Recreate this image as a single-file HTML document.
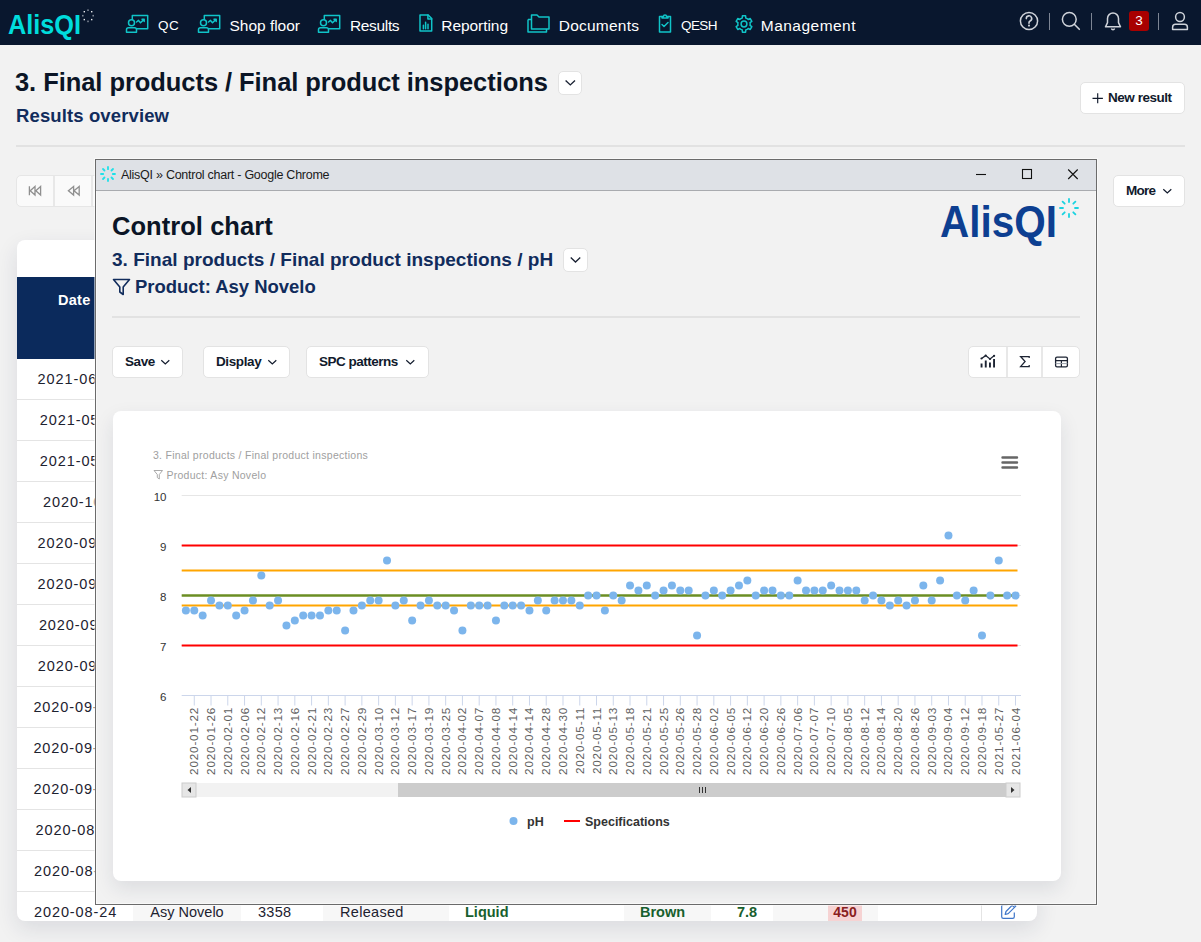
<!DOCTYPE html>
<html><head><meta charset="utf-8">
<style>
*{box-sizing:border-box;margin:0;padding:0}
html,body{width:1201px;height:942px;overflow:hidden;background:#f2f2f2;font-family:"Liberation Sans",sans-serif;position:relative}
.a{position:absolute;white-space:nowrap}
.nav{position:absolute;left:0;top:0;width:1201px;height:45px;background:#09172e}
.nt{position:absolute;color:#fff;font-size:15.5px;line-height:18px;top:17px}
.btn{position:absolute;background:#fff;border:1px solid #e3e3e3;border-radius:5px}
.bt{position:absolute;font-weight:bold;font-size:13.5px;color:#111a2c;line-height:16px}
.card{position:absolute;background:#fff;border-radius:8px;box-shadow:0 8px 22px rgba(25,35,70,.11)}
.row{position:absolute;left:0;width:1020px;height:41px;border-bottom:1px solid #e4e4e4}
.cell{position:absolute;top:0;height:40px;font-size:14.5px;color:#1d2230;line-height:40px;text-align:center}
</style></head><body>
<!-- nav -->
<div class="nav">
  <div class="a" style="left:7.5px;top:7.5px;font-size:28px;font-weight:bold;color:#00dcdc;line-height:34px;transform:scaleX(0.903);transform-origin:0 0">AlisQI</div>
  <svg class="a" style="left:80px;top:8px" width="16" height="16" viewBox="0 0 16 16"><g fill="#7d8593"><rect x="7.2" y="1.4" width="1.6" height="1.6"/><rect x="7.2" y="12.6" width="1.6" height="1.6"/><rect x="2" y="6.9" width="1.6" height="1.6"/><rect x="12.4" y="6.9" width="1.6" height="1.6"/></g><g fill="#e8eaee"><rect x="3.6" y="3" width="1.4" height="1.4"/><rect x="11" y="3" width="1.4" height="1.4"/><rect x="3.6" y="10.9" width="1.4" height="1.4"/><rect x="11" y="10.9" width="1.4" height="1.4"/></g></svg>
  <svg class="a" style="left:121.7px;top:10px" width="28" height="26" viewBox="0 0 28 26"><g fill="none" stroke="#10c4c8" stroke-width="1.5" stroke-linejoin="round" stroke-linecap="round"><path d="M10.3 9.3V5.5h15.4v13.3h-11.2"/><circle cx="9.5" cy="12.7" r="3"/><path d="M4.5 22.2v-2.5q0-2 2-2h6q2 0 2 2v2.5z"/><path d="M14.5 12l2-1.6 2 2.4 3.5-3.4M20 9.2h2.2v2.2"/></g></svg><div class="nt" style="left:158px;font-size:13.5px;letter-spacing:0.5px">QC</div>
<svg class="a" style="left:193.7px;top:10px" width="28" height="26" viewBox="0 0 28 26"><g fill="none" stroke="#10c4c8" stroke-width="1.5" stroke-linejoin="round" stroke-linecap="round"><path d="M10.3 9.3V5.5h15.4v13.3h-11.2"/><circle cx="9.5" cy="12.7" r="3"/><path d="M4.5 22.2v-2.5q0-2 2-2h6q2 0 2 2v2.5z"/><path d="M14.5 12l2-1.6 2 2.4 3.5-3.4M20 9.2h2.2v2.2"/></g></svg><div class="nt" style="left:229.5px;font-size:15.5px;letter-spacing:-0.019px">Shop floor</div>
<svg class="a" style="left:313.7px;top:10px" width="28" height="26" viewBox="0 0 28 26"><g fill="none" stroke="#10c4c8" stroke-width="1.5" stroke-linejoin="round" stroke-linecap="round"><path d="M10.3 9.3V5.5h15.4v13.3h-11.2"/><circle cx="9.5" cy="12.7" r="3"/><path d="M4.5 22.2v-2.5q0-2 2-2h6q2 0 2 2v2.5z"/><path d="M14.5 12l2-1.6 2 2.4 3.5-3.4M20 9.2h2.2v2.2"/></g></svg><div class="nt" style="left:350px;font-size:15.5px;letter-spacing:-0.348px">Results</div>
<svg class="a" style="left:414px;top:10px" width="24" height="26" viewBox="0 0 24 26"><g fill="none" stroke="#10c4c8" stroke-width="1.5" stroke-linejoin="round" stroke-linecap="round"><path d="M6 4.9h8.2l3.5 3.6v12.5H6z"/><path d="M13.9 5v4.1h3.8"/><path d="M9.4 15.3v3.4M11.6 12.3v6.4M14 14.3v4.4"/></g></svg><div class="nt" style="left:441.25px;font-size:15.5px;letter-spacing:-0.052px">Reporting</div>
<svg class="a" style="left:523.5px;top:10px" width="28" height="26" viewBox="0 0 28 26"><g fill="none" stroke="#10c4c8" stroke-width="1.5" stroke-linejoin="round"><path d="M4 9.5h3.5 M4 9.5v12.5h18.5v-3"/><path d="M7.5 5h5.5l2 2h10v12h-17.5z"/></g></svg><div class="nt" style="left:558.75px;font-size:15.5px;letter-spacing:0.233px">Documents</div>
<svg class="a" style="left:655px;top:10px" width="20" height="26" viewBox="0 0 20 26"><g fill="none" stroke="#10c4c8" stroke-width="1.5" stroke-linejoin="round" stroke-linecap="round"><path d="M7 6.5H4.5v15.5h11V6.5H13"/><path d="M7 8h6V6.5h-1.5a1.5 1.5 0 0 0-3 0H7z"/><path d="M7 14.5l2 2 4-4"/></g></svg><div class="nt" style="left:681.1px;font-size:13.5px;letter-spacing:-0.637px">QESH</div>
<svg class="a" style="left:730px;top:10px" width="28" height="26" viewBox="0 0 28 26"><g fill="none" stroke="#10c4c8" stroke-width="1.5" stroke-linejoin="round"><path d="M10.90 8.63 L12.19 8.07 L12.42 5.85 L15.58 5.85 L15.81 8.07 L17.10 8.63 L18.23 9.47 L20.26 8.55 L21.85 11.30 L20.04 12.61 L20.20 14.00 L20.04 15.39 L21.85 16.70 L20.26 19.45 L18.23 18.53 L17.10 19.37 L15.81 19.93 L15.58 22.15 L12.42 22.15 L12.19 19.93 L10.90 19.37 L9.77 18.53 L7.74 19.45 L6.15 16.70 L7.96 15.39 L7.80 14.00 L7.96 12.61 L6.15 11.30 L7.74 8.55 L9.77 9.47Z"/><circle cx="14" cy="14" r="2.9"/></g></svg><div class="nt" style="left:760.8px;font-size:15.5px;letter-spacing:0.47px">Management</div>

  <svg class="a" style="left:1018px;top:10px" width="22" height="22" viewBox="0 0 22 22"><circle cx="11" cy="11" r="8.6" fill="none" stroke="#cfd3da" stroke-width="1.5"/><path d="M8.3 8.6a2.7 2.7 0 1 1 3.8 2.4c-.8.4-1.1.9-1.1 1.7v.6" fill="none" stroke="#cfd3da" stroke-width="1.6" stroke-linecap="round"/><circle cx="11" cy="15.6" r="1.05" fill="#cfd3da"/></svg>
<div class="a" style="left:1049px;top:13px;width:1px;height:17px;background:#7d8594"></div>
<svg class="a" style="left:1060px;top:10px" width="22" height="22" viewBox="0 0 22 22"><circle cx="9.3" cy="9.3" r="6.9" fill="none" stroke="#cfd3da" stroke-width="1.5"/><path d="M14.3 14.3l5 5" stroke="#cfd3da" stroke-width="1.6" stroke-linecap="round"/></svg>
<div class="a" style="left:1091px;top:13px;width:1px;height:17px;background:#7d8594"></div>
<svg class="a" style="left:1103px;top:10px" width="20" height="22" viewBox="0 0 20 22"><path d="M10 3a5.5 5.5 0 0 0-5.5 5.5v4.2L2.5 16.8h15l-2-4.1V8.5A5.5 5.5 0 0 0 10 3z" fill="none" stroke="#cfd3da" stroke-width="1.5" stroke-linejoin="round"/><path d="M8.4 18.6a1.7 1.7 0 0 0 3.2 0" fill="none" stroke="#cfd3da" stroke-width="1.4"/></svg>
<div class="a" style="left:1129px;top:11px;width:20px;height:20px;background:#a80000;border-radius:3px;color:#fff;font-size:13.5px;text-align:center;line-height:19px">3</div>
<div class="a" style="left:1158px;top:13px;width:1px;height:17px;background:#7d8594"></div>
<svg class="a" style="left:1170px;top:10px" width="20" height="22" viewBox="0 0 20 22"><circle cx="10" cy="7" r="4.4" fill="none" stroke="#cfd3da" stroke-width="1.5"/><path d="M2.6 19.5v-2.3q0-3 3-3h8.8q3 0 3 3v2.3z" fill="none" stroke="#cfd3da" stroke-width="1.5" stroke-linejoin="round"/></svg>

</div>
<!-- PAGE HEADER -->
<div class="a" style="left:15px;top:67px;font-size:25.5px;font-weight:bold;color:#0b1526;letter-spacing:-0.06px;line-height:30px">3. Final products / Final product inspections</div>
<div class="btn" style="left:558px;top:71px;width:24px;height:24px"><svg class="a" style="left:6px;top:8px" width="12" height="8" viewBox="0 0 12 8"><path d="M0.6 0.6l4.7 4.3 4.7-4.3" fill="none" stroke="#1a2233" stroke-width="1.4"/></svg></div>
<div class="a" style="left:16px;top:105px;font-size:18.5px;font-weight:bold;color:#112c5c;letter-spacing:0.12px;line-height:22px">Results overview</div>
<div class="btn" style="left:1080px;top:82px;width:105px;height:32px">
  <svg class="a" style="left:11px;top:9px" width="12" height="13" viewBox="0 0 12 13"><path d="M5.7 1.3v10M0.5 6.3h10.4" stroke="#111a2c" stroke-width="1.15"/></svg>
  <div class="bt" style="left:27px;top:7px;letter-spacing:-0.47px">New result</div>
</div>
<div class="a" style="left:16px;top:145px;width:1169px;height:2px;background:#e2e2e2"></div>
<!-- pagination -->
<div class="btn" style="left:16px;top:175px;width:120px;height:32px;background:#fafafa;border-color:#e6e6e6">
  <div class="a" style="left:36px;top:0;width:2px;height:30px;background:#e8e8e8"></div>
  <div class="a" style="left:74px;top:0;width:2px;height:30px;background:#e8e8e8"></div>
  <svg class="a" style="left:11px;top:9px" width="16" height="14" viewBox="0 0 16 14"><path d="M1.4 1.2v9M7 1.4L2.2 5.7 7 10z M12.6 1.4L7.8 5.7l4.8 4.3z" fill="none" stroke="#8f8f8f" stroke-width="1.3" stroke-linejoin="miter"/></svg>
  <svg class="a" style="left:50px;top:9px" width="16" height="14" viewBox="0 0 16 14"><path d="M6.6 1.4L1.4 5.7l5.2 4.3z M12.2 1.4L7 5.7l5.2 4.3z" fill="none" stroke="#8f8f8f" stroke-width="1.3" stroke-linejoin="miter"/></svg>
</div>
<div class="btn" style="left:1113px;top:175px;width:72px;height:32px">
  <div class="bt" style="left:12px;top:7px;letter-spacing:-0.72px">More</div>
  <svg class="a" style="left:48px;top:11px" width="11" height="8" viewBox="0 0 11 8"><path d="M1.3 2.3l4 3.6 4-3.6" fill="none" stroke="#111a2c" stroke-width="1.2"/></svg>
</div>
<!-- TABLE CARD -->
<div class="card" style="left:17px;top:240px;width:1020px;height:681px;overflow:hidden;border-radius:8px">
  <div class="a" style="left:0;top:37px;width:1020px;height:82px;background:#0b2a5c"></div>
  <div class="a" style="left:41px;top:51px;font-size:14.5px;font-weight:bold;color:#fff;line-height:18px;letter-spacing:0.27px">Date</div>
  <div class="row" style="top:119px"><div class="a" style="left:116px;top:0;width:108px;height:40px;background:#f7f7f7"></div><div class="a" style="left:306px;top:0;width:126px;height:40px;background:#f7f7f7"></div><div class="a" style="left:607px;top:0;width:87px;height:40px;background:#f7f7f7"></div><div class="a" style="left:756px;top:0;width:105px;height:40px;background:#f7f7f7"></div><div class="a" style="left:964px;top:0;width:1px;height:40px;background:#e4e4e4"></div><div class="cell" style="left:0;width:116px;letter-spacing:0.9px;text-align:left;padding-left:20.6px">2021-06-04</div></div>
<div class="row" style="top:160px"><div class="a" style="left:116px;top:0;width:108px;height:40px;background:#f7f7f7"></div><div class="a" style="left:306px;top:0;width:126px;height:40px;background:#f7f7f7"></div><div class="a" style="left:607px;top:0;width:87px;height:40px;background:#f7f7f7"></div><div class="a" style="left:756px;top:0;width:105px;height:40px;background:#f7f7f7"></div><div class="a" style="left:964px;top:0;width:1px;height:40px;background:#e4e4e4"></div><div class="cell" style="left:0;width:116px;letter-spacing:0.9px;text-align:left;padding-left:22.8px">2021-05-27</div></div>
<div class="row" style="top:201px"><div class="a" style="left:116px;top:0;width:108px;height:40px;background:#f7f7f7"></div><div class="a" style="left:306px;top:0;width:126px;height:40px;background:#f7f7f7"></div><div class="a" style="left:607px;top:0;width:87px;height:40px;background:#f7f7f7"></div><div class="a" style="left:756px;top:0;width:105px;height:40px;background:#f7f7f7"></div><div class="a" style="left:964px;top:0;width:1px;height:40px;background:#e4e4e4"></div><div class="cell" style="left:0;width:116px;letter-spacing:0.9px;text-align:left;padding-left:22.8px">2021-05-27</div></div>
<div class="row" style="top:242px"><div class="a" style="left:116px;top:0;width:108px;height:40px;background:#f7f7f7"></div><div class="a" style="left:306px;top:0;width:126px;height:40px;background:#f7f7f7"></div><div class="a" style="left:607px;top:0;width:87px;height:40px;background:#f7f7f7"></div><div class="a" style="left:756px;top:0;width:105px;height:40px;background:#f7f7f7"></div><div class="a" style="left:964px;top:0;width:1px;height:40px;background:#e4e4e4"></div><div class="cell" style="left:0;width:116px;letter-spacing:0.9px;text-align:left;padding-left:26.0px">2020-10-01</div></div>
<div class="row" style="top:283px"><div class="a" style="left:116px;top:0;width:108px;height:40px;background:#f7f7f7"></div><div class="a" style="left:306px;top:0;width:126px;height:40px;background:#f7f7f7"></div><div class="a" style="left:607px;top:0;width:87px;height:40px;background:#f7f7f7"></div><div class="a" style="left:756px;top:0;width:105px;height:40px;background:#f7f7f7"></div><div class="a" style="left:964px;top:0;width:1px;height:40px;background:#e4e4e4"></div><div class="cell" style="left:0;width:116px;letter-spacing:0.9px;text-align:left;padding-left:20.6px">2020-09-18</div></div>
<div class="row" style="top:324px"><div class="a" style="left:116px;top:0;width:108px;height:40px;background:#f7f7f7"></div><div class="a" style="left:306px;top:0;width:126px;height:40px;background:#f7f7f7"></div><div class="a" style="left:607px;top:0;width:87px;height:40px;background:#f7f7f7"></div><div class="a" style="left:756px;top:0;width:105px;height:40px;background:#f7f7f7"></div><div class="a" style="left:964px;top:0;width:1px;height:40px;background:#e4e4e4"></div><div class="cell" style="left:0;width:116px;letter-spacing:0.9px;text-align:left;padding-left:20.6px">2020-09-18</div></div>
<div class="row" style="top:365px"><div class="a" style="left:116px;top:0;width:108px;height:40px;background:#f7f7f7"></div><div class="a" style="left:306px;top:0;width:126px;height:40px;background:#f7f7f7"></div><div class="a" style="left:607px;top:0;width:87px;height:40px;background:#f7f7f7"></div><div class="a" style="left:756px;top:0;width:105px;height:40px;background:#f7f7f7"></div><div class="a" style="left:964px;top:0;width:1px;height:40px;background:#e4e4e4"></div><div class="cell" style="left:0;width:116px;letter-spacing:0.9px;text-align:left;padding-left:21.9px">2020-09-12</div></div>
<div class="row" style="top:406px"><div class="a" style="left:116px;top:0;width:108px;height:40px;background:#f7f7f7"></div><div class="a" style="left:306px;top:0;width:126px;height:40px;background:#f7f7f7"></div><div class="a" style="left:607px;top:0;width:87px;height:40px;background:#f7f7f7"></div><div class="a" style="left:756px;top:0;width:105px;height:40px;background:#f7f7f7"></div><div class="a" style="left:964px;top:0;width:1px;height:40px;background:#e4e4e4"></div><div class="cell" style="left:0;width:116px;letter-spacing:0.9px;text-align:left;padding-left:20.8px">2020-09-09</div></div>
<div class="row" style="top:447px"><div class="a" style="left:116px;top:0;width:108px;height:40px;background:#f7f7f7"></div><div class="a" style="left:306px;top:0;width:126px;height:40px;background:#f7f7f7"></div><div class="a" style="left:607px;top:0;width:87px;height:40px;background:#f7f7f7"></div><div class="a" style="left:756px;top:0;width:105px;height:40px;background:#f7f7f7"></div><div class="a" style="left:964px;top:0;width:1px;height:40px;background:#e4e4e4"></div><div class="cell" style="left:0;width:116px;letter-spacing:0.9px;text-align:left;padding-left:16.4px">2020-09-04</div></div>
<div class="row" style="top:488px"><div class="a" style="left:116px;top:0;width:108px;height:40px;background:#f7f7f7"></div><div class="a" style="left:306px;top:0;width:126px;height:40px;background:#f7f7f7"></div><div class="a" style="left:607px;top:0;width:87px;height:40px;background:#f7f7f7"></div><div class="a" style="left:756px;top:0;width:105px;height:40px;background:#f7f7f7"></div><div class="a" style="left:964px;top:0;width:1px;height:40px;background:#e4e4e4"></div><div class="cell" style="left:0;width:116px;letter-spacing:0.9px;text-align:left;padding-left:16.4px">2020-09-04</div></div>
<div class="row" style="top:529px"><div class="a" style="left:116px;top:0;width:108px;height:40px;background:#f7f7f7"></div><div class="a" style="left:306px;top:0;width:126px;height:40px;background:#f7f7f7"></div><div class="a" style="left:607px;top:0;width:87px;height:40px;background:#f7f7f7"></div><div class="a" style="left:756px;top:0;width:105px;height:40px;background:#f7f7f7"></div><div class="a" style="left:964px;top:0;width:1px;height:40px;background:#e4e4e4"></div><div class="cell" style="left:0;width:116px;letter-spacing:0.9px;text-align:left;padding-left:16.4px">2020-09-03</div></div>
<div class="row" style="top:570px"><div class="a" style="left:116px;top:0;width:108px;height:40px;background:#f7f7f7"></div><div class="a" style="left:306px;top:0;width:126px;height:40px;background:#f7f7f7"></div><div class="a" style="left:607px;top:0;width:87px;height:40px;background:#f7f7f7"></div><div class="a" style="left:756px;top:0;width:105px;height:40px;background:#f7f7f7"></div><div class="a" style="left:964px;top:0;width:1px;height:40px;background:#e4e4e4"></div><div class="cell" style="left:0;width:116px;letter-spacing:0.9px;text-align:left;padding-left:18.6px">2020-08-26</div></div>
<div class="row" style="top:611px"><div class="a" style="left:116px;top:0;width:108px;height:40px;background:#f7f7f7"></div><div class="a" style="left:306px;top:0;width:126px;height:40px;background:#f7f7f7"></div><div class="a" style="left:607px;top:0;width:87px;height:40px;background:#f7f7f7"></div><div class="a" style="left:756px;top:0;width:105px;height:40px;background:#f7f7f7"></div><div class="a" style="left:964px;top:0;width:1px;height:40px;background:#e4e4e4"></div><div class="cell" style="left:0;width:116px;letter-spacing:0.9px;text-align:left;padding-left:17.0px">2020-08-26</div></div>
<div class="row" style="top:652px"><div class="a" style="left:116px;top:0;width:108px;height:40px;background:#f7f7f7"></div><div class="a" style="left:306px;top:0;width:126px;height:40px;background:#f7f7f7"></div><div class="a" style="left:607px;top:0;width:87px;height:40px;background:#f7f7f7"></div><div class="a" style="left:756px;top:0;width:105px;height:40px;background:#f7f7f7"></div><div class="a" style="left:964px;top:0;width:1px;height:40px;background:#e4e4e4"></div><div class="cell" style="left:0;width:116px;letter-spacing:0.9px;text-align:left;padding-left:17.0px">2020-08-24</div><div class="cell" style="left:116px;width:108px">Asy Novelo</div><div class="cell" style="left:224px;width:82px;text-align:left;padding-left:17px;letter-spacing:0.3px">3358</div><div class="cell" style="left:306px;width:126px;text-align:left;padding-left:17px;letter-spacing:0.3px">Released</div><div class="cell" style="left:432px;width:175px;text-align:left;padding-left:16px;font-weight:bold;color:#17602e">Liquid</div><div class="cell" style="left:607px;width:87px;font-weight:bold;color:#17602e;text-align:left;padding-left:16px">Brown</div><div class="cell" style="left:694px;width:62px;font-weight:bold;color:#17602e;font-size:14.5px;text-align:left;padding-left:26px">7.8</div><div class="a" style="left:811px;top:11px;width:34px;height:20px;background:#f6d3d3"></div><div class="cell" style="left:811px;width:34px;font-weight:bold;color:#8a1f1f;font-size:14px">450</div><svg class="a" style="left:983px;top:11px" width="18" height="18" viewBox="0 0 18 18"><path d="M7.6 1.6H3.3a1.6 1.6 0 0 0-1.6 1.6v10.6a1.6 1.6 0 0 0 1.6 1.6h9.4a1.6 1.6 0 0 0 1.6-1.6V9.4" fill="none" stroke="#3f76c9" stroke-width="1.2"/><path d="M13.6 0.9l2.2 2.2-7.6 7.6-3 .8.8-3z M12.2 2.3l2.2 2.2" fill="none" stroke="#3f76c9" stroke-width="1.2" stroke-linejoin="round"/></svg></div>

</div>
<!-- popup -->
<div class="a" style="left:95px;top:159px;width:1002px;height:746px;border:1px solid #6b6b6b;background:#f2f2f2;box-shadow:0 0 0 1px rgba(255,255,255,.55) inset,0 0 0 1px rgba(255,255,255,.55)">
  <div class="a" style="left:0;top:0;width:1000px;height:31px;background:#dee1e6;border-bottom:1px solid #a9abaf"></div>
  <svg class="a" style="left:3px;top:5px" width="18" height="18" viewBox="0 0 18 18"><g stroke="#1ee0e8" stroke-width="1.8" stroke-linecap="round"><path d="M9 2v2.2M9 13.8V16M2 9h2.2M13.8 9H16M4 4l1.5 1.5M12.5 12.5L14 14M4 14l1.5-1.5M12.5 5.5L14 4"/></g></svg>
  <div class="a" style="left:25px;top:7px;font-size:12.5px;color:#1a1a1a;line-height:16px;letter-spacing:-0.26px">AlisQI » Control chart - Google Chrome</div>
  <svg class="a" style="left:878px;top:7px" width="120" height="18" viewBox="0 0 120 18"><path d="M2 7.5h10" stroke="#111" stroke-width="1.1"/><rect x="48.5" y="2.5" width="9" height="9" fill="none" stroke="#111" stroke-width="1.1"/><path d="M94.2 2.5l9.5 9.5M103.7 2.5l-9.5 9.5" stroke="#111" stroke-width="1.1"/></svg>
  <!-- content -->
  <div class="a" style="left:16px;top:51px;font-size:25.5px;font-weight:bold;color:#0b1526;line-height:30px;letter-spacing:0.05px">Control chart</div>
  <div class="a" style="left:16px;top:89px;font-size:19px;font-weight:bold;color:#112c5c;line-height:22px;letter-spacing:0.02px">3. Final products / Final product inspections / pH</div>
  <div class="btn" style="left:467px;top:88px;width:25px;height:24px"><svg class="a" style="left:6px;top:8px" width="12" height="8" viewBox="0 0 12 8"><path d="M0.75 0.6l4.75 4.4 4.75-4.4" fill="none" stroke="#1a2233" stroke-width="1.3"/></svg></div>
  <svg class="a" style="left:16px;top:117px" width="20" height="20" viewBox="0 0 20 20"><path d="M1.5 2.5h16l-6.3 7.5v7.5l-3.4-2.5v-5z" fill="none" stroke="#112c5c" stroke-width="1.6" stroke-linejoin="round"/></svg>
  <div class="a" style="left:39px;top:116px;font-size:18.5px;font-weight:bold;color:#112c5c;line-height:22px;letter-spacing:-0.03px">Product: Asy Novelo</div>
  <div class="a" style="left:16px;top:156px;width:968px;height:2px;background:#e2e2e2"></div>
  <!-- logo -->
  <div class="a" style="left:844px;top:36.5px;font-size:44px;font-weight:bold;color:#0d3f91;line-height:50px;transform:scaleX(0.92);transform-origin:0 0">AlisQI</div>
  <svg class="a" style="left:962px;top:37px" width="22" height="22" viewBox="0 0 22 22"><g stroke="#19d3e0" stroke-width="1.8" stroke-linecap="round"><path d="M11 2v3M11 17v3M2 11h3M17 11h3M4.6 4.6l2.1 2.1M15.3 15.3l2.1 2.1M4.6 17.4l2.1-2.1M15.3 6.7l2.1-2.1"/></g></svg>
  <!-- buttons -->
  <div class="btn" style="left:16px;top:186px;width:71px;height:32px"><div class="bt" style="left:12px;top:7px;letter-spacing:-0.41px">Save</div><svg class="a" style="left:47px;top:11px" width="11" height="8" viewBox="0 0 11 8"><path d="M1.3 2.3l4 3.6 4-3.6" fill="none" stroke="#111a2c" stroke-width="1.2"/></svg></div>
  <div class="btn" style="left:107px;top:186px;width:87px;height:32px"><div class="bt" style="left:12px;top:7px;letter-spacing:-0.39px">Display</div><svg class="a" style="left:63px;top:11px" width="11" height="8" viewBox="0 0 11 8"><path d="M1.3 2.3l4 3.6 4-3.6" fill="none" stroke="#111a2c" stroke-width="1.2"/></svg></div>
  <div class="btn" style="left:210px;top:186px;width:123px;height:32px"><div class="bt" style="left:12px;top:7px;letter-spacing:-0.5px">SPC patterns</div><svg class="a" style="left:98px;top:11px" width="11" height="8" viewBox="0 0 11 8"><path d="M1.3 2.3l4 3.6 4-3.6" fill="none" stroke="#111a2c" stroke-width="1.2"/></svg></div>
  <div class="btn" style="left:872px;top:186px;width:112px;height:32px">
    <div class="a" style="left:37px;top:0;width:2px;height:30px;background:#e8e8e8"></div>
    <div class="a" style="left:72px;top:0;width:2px;height:30px;background:#e8e8e8"></div>
    <svg class="a" style="left:10px;top:7px" width="18" height="18" viewBox="0 0 18 18"><g fill="#1d2433"><rect x="1.6" y="9.5" width="1.9" height="4"/><rect x="5.8" y="6.5" width="1.9" height="7"/><rect x="10" y="8.5" width="1.9" height="5"/><rect x="14.1" y="5" width="1.9" height="8.5"/><circle cx="2.5" cy="4.5" r="1.1"/><circle cx="6.7" cy="1.6" r="1.1"/><circle cx="11" cy="5" r="1.1"/><circle cx="15.1" cy="1.8" r="1.1"/></g><path d="M2.5 4.5L6.7 1.6 11 5 15.1 1.8" fill="none" stroke="#1d2433" stroke-width="1.3"/></svg>
    <svg class="a" style="left:49px;top:7px" width="18" height="18" viewBox="0 0 18 18"><path d="M11.2 4V2.5H2.6L7.1 7.5 2.6 12.5h8.6V11" fill="none" stroke="#1d2433" stroke-width="1.25" stroke-linejoin="miter"/></svg>
    <svg class="a" style="left:84px;top:7px" width="18" height="18" viewBox="0 0 18 18"><rect x="2.6" y="3.1" width="11.8" height="9.8" rx="1.4" fill="none" stroke="#1d2433" stroke-width="1.3"/><path d="M2.6 6.6h11.8M8.4 6.6v6.3" stroke="#1d2433" stroke-width="1.2"/><path d="M2.6 9.6h11.8" stroke="#9aa0aa" stroke-width="1"/></svg>
  </div>
  <!-- chart card -->
  <div class="card" style="left:17px;top:251px;width:948px;height:470px;box-shadow:0 8px 20px rgba(25,35,70,.10)">
<svg class="a" style="left:0;top:0" width="948" height="470" font-family="Liberation Sans, sans-serif"><g transform="translate(-113,-411)">
<text x="153" y="459" font-size="10.5" fill="#a0a0a0" letter-spacing="0.28">3. Final products / Final product inspections</text>
<path d="M154 470.5h8.5l-3.2 4v4.5l-2-1.5v-3z" fill="none" stroke="#a0a0a0" stroke-width="0.9" stroke-linejoin="round"/>
<text x="166.4" y="479" font-size="10.5" fill="#a0a0a0" letter-spacing="0.28">Product: Asy Novelo</text>
<g stroke="#666" stroke-width="2.4" stroke-linecap="round"><path d="M1002.5 457.5h14.5M1002.5 462.5h14.5M1002.5 467.5h14.5"/></g>
<path d="M181.7 495.5H1021" stroke="#e6e6e6" stroke-width="1"/>
<path d="M181.7 545.5H1021" stroke="#e6e6e6" stroke-width="1"/>
<path d="M181.7 595.5H1021" stroke="#e6e6e6" stroke-width="1"/>
<path d="M181.7 645.5H1021" stroke="#e6e6e6" stroke-width="1"/>
<text x="166.5" y="500.5" font-size="11.5" fill="#333" text-anchor="end">10</text>
<text x="166.5" y="550.5" font-size="11.5" fill="#333" text-anchor="end">9</text>
<text x="166.5" y="600.5" font-size="11.5" fill="#333" text-anchor="end">8</text>
<text x="166.5" y="650.5" font-size="11.5" fill="#333" text-anchor="end">7</text>
<text x="166.5" y="700.5" font-size="11.5" fill="#333" text-anchor="end">6</text>
<path d="M181.7 545.5H1017.5M181.7 645.5H1017.5" stroke="#ff0000" stroke-width="2"/>
<path d="M181.7 570.5H1017.5M181.7 605.5H1017.5" stroke="#ffa500" stroke-width="2"/>
<path d="M181.7 595.5H1017.5" stroke="#6b8e23" stroke-width="2.5"/>
<path d="M181.7 695.5H1021" stroke="#ccd6eb" stroke-width="1"/>
<path d="M194.27 695.5v10M211.03 695.5v10M227.79 695.5v10M244.55 695.5v10M261.31 695.5v10M278.07 695.5v10M294.83 695.5v10M311.59 695.5v10M328.35 695.5v10M345.11 695.5v10M361.87 695.5v10M378.63 695.5v10M395.39 695.5v10M412.15 695.5v10M428.91 695.5v10M445.67 695.5v10M462.43 695.5v10M479.19 695.5v10M495.95 695.5v10M512.71 695.5v10M529.47 695.5v10M546.23 695.5v10M562.99 695.5v10M579.75 695.5v10M596.51 695.5v10M613.27 695.5v10M630.03 695.5v10M646.79 695.5v10M663.55 695.5v10M680.31 695.5v10M697.07 695.5v10M713.83 695.5v10M730.59 695.5v10M747.35 695.5v10M764.11 695.5v10M780.87 695.5v10M797.63 695.5v10M814.39 695.5v10M831.15 695.5v10M847.91 695.5v10M864.67 695.5v10M881.43 695.5v10M898.19 695.5v10M914.95 695.5v10M931.71 695.5v10M948.47 695.5v10M965.23 695.5v10M981.99 695.5v10M998.75 695.5v10M1015.51 695.5v10" stroke="#ccd6eb" stroke-width="1"/>
<text transform="translate(198.27,706.8) rotate(-90)" font-size="11.8" fill="#5e5e5e" text-anchor="end" letter-spacing="0.78">2020-01-22</text>
<text transform="translate(215.03,706.8) rotate(-90)" font-size="11.8" fill="#5e5e5e" text-anchor="end" letter-spacing="0.78">2020-01-26</text>
<text transform="translate(231.79,706.8) rotate(-90)" font-size="11.8" fill="#5e5e5e" text-anchor="end" letter-spacing="0.78">2020-02-01</text>
<text transform="translate(248.55,706.8) rotate(-90)" font-size="11.8" fill="#5e5e5e" text-anchor="end" letter-spacing="0.78">2020-02-06</text>
<text transform="translate(265.31,706.8) rotate(-90)" font-size="11.8" fill="#5e5e5e" text-anchor="end" letter-spacing="0.78">2020-02-12</text>
<text transform="translate(282.07,706.8) rotate(-90)" font-size="11.8" fill="#5e5e5e" text-anchor="end" letter-spacing="0.78">2020-02-13</text>
<text transform="translate(298.83,706.8) rotate(-90)" font-size="11.8" fill="#5e5e5e" text-anchor="end" letter-spacing="0.78">2020-02-16</text>
<text transform="translate(315.59,706.8) rotate(-90)" font-size="11.8" fill="#5e5e5e" text-anchor="end" letter-spacing="0.78">2020-02-21</text>
<text transform="translate(332.35,706.8) rotate(-90)" font-size="11.8" fill="#5e5e5e" text-anchor="end" letter-spacing="0.78">2020-02-23</text>
<text transform="translate(349.11,706.8) rotate(-90)" font-size="11.8" fill="#5e5e5e" text-anchor="end" letter-spacing="0.78">2020-02-27</text>
<text transform="translate(365.87,706.8) rotate(-90)" font-size="11.8" fill="#5e5e5e" text-anchor="end" letter-spacing="0.78">2020-02-29</text>
<text transform="translate(382.63,706.8) rotate(-90)" font-size="11.8" fill="#5e5e5e" text-anchor="end" letter-spacing="0.78">2020-03-10</text>
<text transform="translate(399.39,706.8) rotate(-90)" font-size="11.8" fill="#5e5e5e" text-anchor="end" letter-spacing="0.78">2020-03-12</text>
<text transform="translate(416.15,706.8) rotate(-90)" font-size="11.8" fill="#5e5e5e" text-anchor="end" letter-spacing="0.78">2020-03-17</text>
<text transform="translate(432.91,706.8) rotate(-90)" font-size="11.8" fill="#5e5e5e" text-anchor="end" letter-spacing="0.78">2020-03-19</text>
<text transform="translate(449.67,706.8) rotate(-90)" font-size="11.8" fill="#5e5e5e" text-anchor="end" letter-spacing="0.78">2020-03-25</text>
<text transform="translate(466.43,706.8) rotate(-90)" font-size="11.8" fill="#5e5e5e" text-anchor="end" letter-spacing="0.78">2020-04-02</text>
<text transform="translate(483.19,706.8) rotate(-90)" font-size="11.8" fill="#5e5e5e" text-anchor="end" letter-spacing="0.78">2020-04-07</text>
<text transform="translate(499.95,706.8) rotate(-90)" font-size="11.8" fill="#5e5e5e" text-anchor="end" letter-spacing="0.78">2020-04-08</text>
<text transform="translate(516.71,706.8) rotate(-90)" font-size="11.8" fill="#5e5e5e" text-anchor="end" letter-spacing="0.78">2020-04-14</text>
<text transform="translate(533.47,706.8) rotate(-90)" font-size="11.8" fill="#5e5e5e" text-anchor="end" letter-spacing="0.78">2020-04-14</text>
<text transform="translate(550.23,706.8) rotate(-90)" font-size="11.8" fill="#5e5e5e" text-anchor="end" letter-spacing="0.78">2020-04-28</text>
<text transform="translate(566.99,706.8) rotate(-90)" font-size="11.8" fill="#5e5e5e" text-anchor="end" letter-spacing="0.78">2020-04-30</text>
<text transform="translate(583.75,706.8) rotate(-90)" font-size="11.8" fill="#5e5e5e" text-anchor="end" letter-spacing="0.78">2020-05-11</text>
<text transform="translate(600.51,706.8) rotate(-90)" font-size="11.8" fill="#5e5e5e" text-anchor="end" letter-spacing="0.78">2020-05-11</text>
<text transform="translate(617.27,706.8) rotate(-90)" font-size="11.8" fill="#5e5e5e" text-anchor="end" letter-spacing="0.78">2020-05-13</text>
<text transform="translate(634.03,706.8) rotate(-90)" font-size="11.8" fill="#5e5e5e" text-anchor="end" letter-spacing="0.78">2020-05-18</text>
<text transform="translate(650.79,706.8) rotate(-90)" font-size="11.8" fill="#5e5e5e" text-anchor="end" letter-spacing="0.78">2020-05-21</text>
<text transform="translate(667.55,706.8) rotate(-90)" font-size="11.8" fill="#5e5e5e" text-anchor="end" letter-spacing="0.78">2020-05-25</text>
<text transform="translate(684.31,706.8) rotate(-90)" font-size="11.8" fill="#5e5e5e" text-anchor="end" letter-spacing="0.78">2020-05-26</text>
<text transform="translate(701.07,706.8) rotate(-90)" font-size="11.8" fill="#5e5e5e" text-anchor="end" letter-spacing="0.78">2020-05-28</text>
<text transform="translate(717.83,706.8) rotate(-90)" font-size="11.8" fill="#5e5e5e" text-anchor="end" letter-spacing="0.78">2020-06-02</text>
<text transform="translate(734.59,706.8) rotate(-90)" font-size="11.8" fill="#5e5e5e" text-anchor="end" letter-spacing="0.78">2020-06-05</text>
<text transform="translate(751.35,706.8) rotate(-90)" font-size="11.8" fill="#5e5e5e" text-anchor="end" letter-spacing="0.78">2020-06-12</text>
<text transform="translate(768.11,706.8) rotate(-90)" font-size="11.8" fill="#5e5e5e" text-anchor="end" letter-spacing="0.78">2020-06-20</text>
<text transform="translate(784.87,706.8) rotate(-90)" font-size="11.8" fill="#5e5e5e" text-anchor="end" letter-spacing="0.78">2020-06-26</text>
<text transform="translate(801.63,706.8) rotate(-90)" font-size="11.8" fill="#5e5e5e" text-anchor="end" letter-spacing="0.78">2020-07-06</text>
<text transform="translate(818.39,706.8) rotate(-90)" font-size="11.8" fill="#5e5e5e" text-anchor="end" letter-spacing="0.78">2020-07-07</text>
<text transform="translate(835.15,706.8) rotate(-90)" font-size="11.8" fill="#5e5e5e" text-anchor="end" letter-spacing="0.78">2020-07-10</text>
<text transform="translate(851.91,706.8) rotate(-90)" font-size="11.8" fill="#5e5e5e" text-anchor="end" letter-spacing="0.78">2020-08-05</text>
<text transform="translate(868.67,706.8) rotate(-90)" font-size="11.8" fill="#5e5e5e" text-anchor="end" letter-spacing="0.78">2020-08-12</text>
<text transform="translate(885.43,706.8) rotate(-90)" font-size="11.8" fill="#5e5e5e" text-anchor="end" letter-spacing="0.78">2020-08-14</text>
<text transform="translate(902.19,706.8) rotate(-90)" font-size="11.8" fill="#5e5e5e" text-anchor="end" letter-spacing="0.78">2020-08-20</text>
<text transform="translate(918.95,706.8) rotate(-90)" font-size="11.8" fill="#5e5e5e" text-anchor="end" letter-spacing="0.78">2020-08-26</text>
<text transform="translate(935.71,706.8) rotate(-90)" font-size="11.8" fill="#5e5e5e" text-anchor="end" letter-spacing="0.78">2020-09-03</text>
<text transform="translate(952.47,706.8) rotate(-90)" font-size="11.8" fill="#5e5e5e" text-anchor="end" letter-spacing="0.78">2020-09-04</text>
<text transform="translate(969.23,706.8) rotate(-90)" font-size="11.8" fill="#5e5e5e" text-anchor="end" letter-spacing="0.78">2020-09-12</text>
<text transform="translate(985.99,706.8) rotate(-90)" font-size="11.8" fill="#5e5e5e" text-anchor="end" letter-spacing="0.78">2020-09-18</text>
<text transform="translate(1002.75,706.8) rotate(-90)" font-size="11.8" fill="#5e5e5e" text-anchor="end" letter-spacing="0.78">2021-05-27</text>
<text transform="translate(1019.51,706.8) rotate(-90)" font-size="11.8" fill="#5e5e5e" text-anchor="end" letter-spacing="0.78">2021-06-04</text>
<circle cx="185.89" cy="610.5" r="4" fill="#7cb5ec"/>
<circle cx="194.27" cy="610.5" r="4" fill="#7cb5ec"/>
<circle cx="202.65" cy="615.5" r="4" fill="#7cb5ec"/>
<circle cx="211.03" cy="600.5" r="4" fill="#7cb5ec"/>
<circle cx="219.41" cy="605.5" r="4" fill="#7cb5ec"/>
<circle cx="227.79" cy="605.5" r="4" fill="#7cb5ec"/>
<circle cx="236.17" cy="615.5" r="4" fill="#7cb5ec"/>
<circle cx="244.55" cy="610.5" r="4" fill="#7cb5ec"/>
<circle cx="252.93" cy="600.5" r="4" fill="#7cb5ec"/>
<circle cx="261.31" cy="575.5" r="4" fill="#7cb5ec"/>
<circle cx="269.69" cy="605.5" r="4" fill="#7cb5ec"/>
<circle cx="278.07" cy="600.5" r="4" fill="#7cb5ec"/>
<circle cx="286.45" cy="625.5" r="4" fill="#7cb5ec"/>
<circle cx="294.83" cy="620.5" r="4" fill="#7cb5ec"/>
<circle cx="303.21" cy="615.5" r="4" fill="#7cb5ec"/>
<circle cx="311.59" cy="615.5" r="4" fill="#7cb5ec"/>
<circle cx="319.97" cy="615.5" r="4" fill="#7cb5ec"/>
<circle cx="328.35" cy="610.5" r="4" fill="#7cb5ec"/>
<circle cx="336.73" cy="610.5" r="4" fill="#7cb5ec"/>
<circle cx="345.11" cy="630.5" r="4" fill="#7cb5ec"/>
<circle cx="353.49" cy="610.5" r="4" fill="#7cb5ec"/>
<circle cx="361.87" cy="605.5" r="4" fill="#7cb5ec"/>
<circle cx="370.25" cy="600.5" r="4" fill="#7cb5ec"/>
<circle cx="378.63" cy="600.5" r="4" fill="#7cb5ec"/>
<circle cx="387.01" cy="560.5" r="4" fill="#7cb5ec"/>
<circle cx="395.39" cy="605.5" r="4" fill="#7cb5ec"/>
<circle cx="403.77" cy="600.5" r="4" fill="#7cb5ec"/>
<circle cx="412.15" cy="620.5" r="4" fill="#7cb5ec"/>
<circle cx="420.53" cy="605.5" r="4" fill="#7cb5ec"/>
<circle cx="428.91" cy="600.5" r="4" fill="#7cb5ec"/>
<circle cx="437.29" cy="605.5" r="4" fill="#7cb5ec"/>
<circle cx="445.67" cy="605.5" r="4" fill="#7cb5ec"/>
<circle cx="454.05" cy="610.5" r="4" fill="#7cb5ec"/>
<circle cx="462.43" cy="630.5" r="4" fill="#7cb5ec"/>
<circle cx="470.81" cy="605.5" r="4" fill="#7cb5ec"/>
<circle cx="479.19" cy="605.5" r="4" fill="#7cb5ec"/>
<circle cx="487.57" cy="605.5" r="4" fill="#7cb5ec"/>
<circle cx="495.95" cy="620.5" r="4" fill="#7cb5ec"/>
<circle cx="504.33" cy="605.5" r="4" fill="#7cb5ec"/>
<circle cx="512.71" cy="605.5" r="4" fill="#7cb5ec"/>
<circle cx="521.09" cy="605.5" r="4" fill="#7cb5ec"/>
<circle cx="529.47" cy="610.5" r="4" fill="#7cb5ec"/>
<circle cx="537.85" cy="600.5" r="4" fill="#7cb5ec"/>
<circle cx="546.23" cy="610.5" r="4" fill="#7cb5ec"/>
<circle cx="554.61" cy="600.5" r="4" fill="#7cb5ec"/>
<circle cx="562.99" cy="600.5" r="4" fill="#7cb5ec"/>
<circle cx="571.37" cy="600.5" r="4" fill="#7cb5ec"/>
<circle cx="579.75" cy="605.5" r="4" fill="#7cb5ec"/>
<circle cx="588.13" cy="595.5" r="4" fill="#7cb5ec"/>
<circle cx="596.51" cy="595.5" r="4" fill="#7cb5ec"/>
<circle cx="604.89" cy="610.5" r="4" fill="#7cb5ec"/>
<circle cx="613.27" cy="595.5" r="4" fill="#7cb5ec"/>
<circle cx="621.65" cy="600.5" r="4" fill="#7cb5ec"/>
<circle cx="630.03" cy="585.5" r="4" fill="#7cb5ec"/>
<circle cx="638.41" cy="590.5" r="4" fill="#7cb5ec"/>
<circle cx="646.79" cy="585.5" r="4" fill="#7cb5ec"/>
<circle cx="655.17" cy="595.5" r="4" fill="#7cb5ec"/>
<circle cx="663.55" cy="590.5" r="4" fill="#7cb5ec"/>
<circle cx="671.93" cy="585.5" r="4" fill="#7cb5ec"/>
<circle cx="680.31" cy="590.5" r="4" fill="#7cb5ec"/>
<circle cx="688.69" cy="590.5" r="4" fill="#7cb5ec"/>
<circle cx="697.07" cy="635.5" r="4" fill="#7cb5ec"/>
<circle cx="705.45" cy="595.5" r="4" fill="#7cb5ec"/>
<circle cx="713.83" cy="590.5" r="4" fill="#7cb5ec"/>
<circle cx="722.21" cy="595.5" r="4" fill="#7cb5ec"/>
<circle cx="730.59" cy="590.5" r="4" fill="#7cb5ec"/>
<circle cx="738.97" cy="585.5" r="4" fill="#7cb5ec"/>
<circle cx="747.35" cy="580.5" r="4" fill="#7cb5ec"/>
<circle cx="755.73" cy="595.5" r="4" fill="#7cb5ec"/>
<circle cx="764.11" cy="590.5" r="4" fill="#7cb5ec"/>
<circle cx="772.49" cy="590.5" r="4" fill="#7cb5ec"/>
<circle cx="780.87" cy="595.5" r="4" fill="#7cb5ec"/>
<circle cx="789.25" cy="595.5" r="4" fill="#7cb5ec"/>
<circle cx="797.63" cy="580.5" r="4" fill="#7cb5ec"/>
<circle cx="806.01" cy="590.5" r="4" fill="#7cb5ec"/>
<circle cx="814.39" cy="590.5" r="4" fill="#7cb5ec"/>
<circle cx="822.77" cy="590.5" r="4" fill="#7cb5ec"/>
<circle cx="831.15" cy="585.5" r="4" fill="#7cb5ec"/>
<circle cx="839.53" cy="590.5" r="4" fill="#7cb5ec"/>
<circle cx="847.91" cy="590.5" r="4" fill="#7cb5ec"/>
<circle cx="856.29" cy="590.5" r="4" fill="#7cb5ec"/>
<circle cx="864.67" cy="600.5" r="4" fill="#7cb5ec"/>
<circle cx="873.05" cy="595.5" r="4" fill="#7cb5ec"/>
<circle cx="881.43" cy="600.5" r="4" fill="#7cb5ec"/>
<circle cx="889.81" cy="605.5" r="4" fill="#7cb5ec"/>
<circle cx="898.19" cy="600.5" r="4" fill="#7cb5ec"/>
<circle cx="906.57" cy="605.5" r="4" fill="#7cb5ec"/>
<circle cx="914.95" cy="600.5" r="4" fill="#7cb5ec"/>
<circle cx="923.33" cy="585.5" r="4" fill="#7cb5ec"/>
<circle cx="931.71" cy="600.5" r="4" fill="#7cb5ec"/>
<circle cx="940.09" cy="580.5" r="4" fill="#7cb5ec"/>
<circle cx="948.47" cy="535.5" r="4" fill="#7cb5ec"/>
<circle cx="956.85" cy="595.5" r="4" fill="#7cb5ec"/>
<circle cx="965.23" cy="600.5" r="4" fill="#7cb5ec"/>
<circle cx="973.61" cy="590.5" r="4" fill="#7cb5ec"/>
<circle cx="981.99" cy="635.5" r="4" fill="#7cb5ec"/>
<circle cx="990.37" cy="595.5" r="4" fill="#7cb5ec"/>
<circle cx="998.75" cy="560.5" r="4" fill="#7cb5ec"/>
<circle cx="1007.13" cy="595.5" r="4" fill="#7cb5ec"/>
<circle cx="1015.51" cy="595.5" r="4" fill="#7cb5ec"/>
<rect x="182" y="783" width="838" height="14" fill="#f2f2f2"/>
<rect x="398" y="783" width="622" height="14" fill="#cccccc"/>
<rect x="182" y="783" width="14" height="14" fill="#e6e6e6" stroke="#ccc" stroke-width="1"/>
<rect x="1006" y="783" width="14" height="14" fill="#e6e6e6" stroke="#ccc" stroke-width="1"/>
<path d="M191 787v6l-3.5-3z" fill="#333"/><path d="M1011 787v6l3.5-3z" fill="#333"/>
<path d="M699.5 787v6M702.5 787v6M705.5 787v6" stroke="#333" stroke-width="1"/>
<circle cx="513.5" cy="821" r="4" fill="#7cb5ec"/>
<text x="527" y="826" font-size="12.5" font-weight="bold" fill="#333">pH</text>
<path d="M564 821H580" stroke="#ff0000" stroke-width="2"/>
<text x="585" y="826" font-size="12.5" font-weight="bold" fill="#333">Specifications</text>
</g></svg>
  </div>
</div>

</body></html>
